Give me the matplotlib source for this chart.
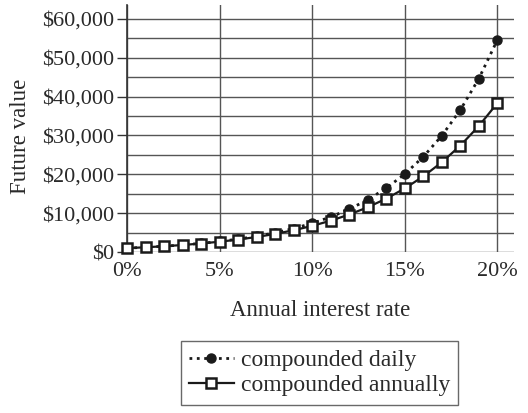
import matplotlib
matplotlib.use("Agg")
import matplotlib.pyplot as plt
from matplotlib.ticker import MultipleLocator

rates = list(range(0, 21))  # percent
daily = [1000, 1221, 1492, 1822, 2225, 2718, 3320, 4055, 4952, 6048, 7387,
         9021, 11018, 13456, 16433, 20069, 24510, 29932, 36551, 44631, 54575]
annual = [1000, 1220, 1486, 1806, 2191, 2653, 3207, 3870, 4661, 5604, 6727,
          8062, 9646, 11523, 13743, 16367, 19461, 23106, 27393, 32429, 38338]
xticks = [0, 5, 10, 15, 20]
yticks = [0, 10000, 20000, 30000, 40000, 50000, 60000]

plt.rcParams['font.family'] = ['Liberation Serif', 'DejaVu Serif']
txt = '#2a2a2a'

fig = plt.figure(figsize=(5.28, 4.13), dpi=100)
ax = fig.add_axes([0.2405, 0.3898, 0.9735 - 0.2405, 0.988 - 0.3898])

ax.plot(rates, daily, linestyle=':', color='#1a1a1a', lw=2.0, marker='o',
        markersize=6.5, markerfacecolor='#1a1a1a', markeredgecolor='#1a1a1a',
        clip_on=False, zorder=3, label='compounded daily')
ax.plot(rates, annual, linestyle='-', color='#1a1a1a', lw=1.6, marker='s',
        markersize=7.5, markerfacecolor='white', markeredgecolor='#1a1a1a',
        markeredgewidth=1.8, clip_on=False, zorder=4, label='compounded annually')

ax.set_xlim(0, 20.9)
ax.set_ylim(0, 63600)
ax.set_xticks(xticks)
ax.set_xticklabels([f'{t}%' for t in xticks])
ax.set_yticks(yticks)
ax.set_yticklabels(['$0'] + [f'${t:,}' for t in yticks[1:]])
ax.yaxis.set_minor_locator(MultipleLocator(5000))

ax.grid(True, which='major', color='#555555', lw=1.0)
ax.grid(True, which='minor', axis='y', color='#555555', lw=1.0)
for s in ['top', 'right', 'bottom']:
    ax.spines[s].set_visible(False)
ax.spines['left'].set_color('#333333')
ax.spines['left'].set_linewidth(1.2)

ax.tick_params(axis='y', which='major', length=7, width=1.0, color='#333333',
               labelsize=16, labelcolor=txt, pad=2)
ax.tick_params(axis='y', which='minor', length=0)
ax.tick_params(axis='x', length=0, labelsize=16, labelcolor=txt, pad=7)

ax.set_xlabel('Annual interest rate', fontsize=16.5, color=txt)
ax.xaxis.label.set_va('center')
ax.xaxis.set_label_coords(0.5, -0.235)
ax.set_ylabel('Future value', fontsize=16.5, color=txt)
ax.yaxis.label.set_va('center')
ax.yaxis.set_label_coords(-0.276, 0.47)

leg = fig.legend(loc='center', bbox_to_anchor=(0.605, 0.097), fontsize=17,
                 frameon=True, fancybox=False, edgecolor='#444444',
                 handlelength=1.9, handletextpad=0.3, borderpad=0.35,
                 labelspacing=0.15, borderaxespad=0)
for t in leg.get_texts():
    t.set_color(txt)
leg.get_frame().set_linewidth(1.0)

fig.savefig('out.png', dpi=100)
